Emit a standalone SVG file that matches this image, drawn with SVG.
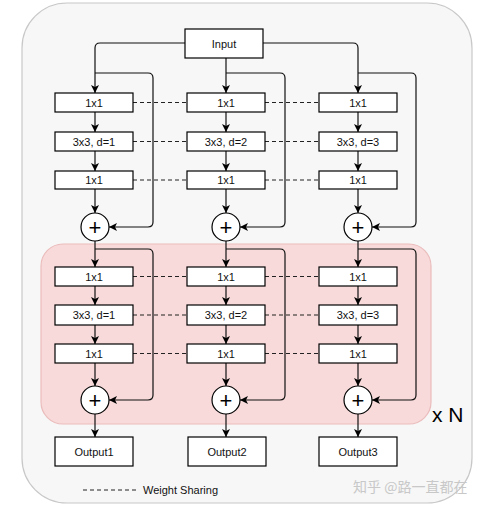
<svg xmlns="http://www.w3.org/2000/svg" width="483" height="507" viewBox="0 0 483 507">
<defs>
<style>
.bx{fill:#fff;stroke:#000;stroke-width:1.2}
.t{font-family:"Liberation Sans",Arial,sans-serif;font-size:11px;fill:#111;text-anchor:middle}
.c{fill:#fff;stroke:#000;stroke-width:1.2}
.p{font-family:"Liberation Sans",Arial,sans-serif;font-size:22px;fill:#000;text-anchor:middle}
.ln{fill:none;stroke:#111;stroke-width:1.2}
.ds{fill:none;stroke:#222;stroke-width:1;stroke-dasharray:4 3}
</style>
<marker id="ar" markerUnits="userSpaceOnUse" markerWidth="10" markerHeight="10" refX="8" refY="4" orient="auto">
<path d="M0,0 L8,4 L0,8 L2,4 z" fill="#000"/>
</marker>
</defs>
<rect x="22" y="3" width="450" height="500" rx="45" ry="45" fill="#f7f7f7" stroke="#c8c8c8" stroke-width="1.2"/>
<rect x="41" y="244" width="390" height="180" rx="22" ry="22" fill="#f8dada" stroke="#ebbcbc" stroke-width="1.2"/>
<g id="connectors">
<path class="ln" d="M185,43 H100 Q95,43 95,48 V93" marker-end="url(#ar)"/>
<path class="ln" d="M263,43 H353 Q358,43 358,48 V93" marker-end="url(#ar)"/>
<path class="ln" d="M226,58 V93" marker-end="url(#ar)"/>
<path class="ln" d="M95,73 H148 Q153,73 153,78 V222 Q153,227 148,227 H109" marker-end="url(#ar)"/>
<path class="ln" d="M226,73 H280 Q285,73 285,78 V222 Q285,227 280,227 H240" marker-end="url(#ar)"/>
<path class="ln" d="M358,73 H411 Q416,73 416,78 V222 Q416,227 411,227 H372" marker-end="url(#ar)"/>
<path class="ln" d="M95,249 H148 Q153,249 153,254 V395 Q153,400 148,400 H109" marker-end="url(#ar)"/>
<path class="ln" d="M226,249 H280 Q285,249 285,254 V395 Q285,400 280,400 H240" marker-end="url(#ar)"/>
<path class="ln" d="M358,249 H411 Q416,249 416,254 V395 Q416,400 411,400 H372" marker-end="url(#ar)"/>
<path class="ln" d="M95,112 V132" marker-end="url(#ar)"/>
<path class="ln" d="M95,151 V171" marker-end="url(#ar)"/>
<path class="ln" d="M95,189 V213" marker-end="url(#ar)"/>
<path class="ln" d="M95,241 V267" marker-end="url(#ar)"/>
<path class="ln" d="M95,286 V305" marker-end="url(#ar)"/>
<path class="ln" d="M95,325 V344" marker-end="url(#ar)"/>
<path class="ln" d="M95,363 V386" marker-end="url(#ar)"/>
<path class="ln" d="M95,414 V437" marker-end="url(#ar)"/>
<path class="ln" d="M226,112 V132" marker-end="url(#ar)"/>
<path class="ln" d="M226,151 V171" marker-end="url(#ar)"/>
<path class="ln" d="M226,189 V213" marker-end="url(#ar)"/>
<path class="ln" d="M226,241 V267" marker-end="url(#ar)"/>
<path class="ln" d="M226,286 V305" marker-end="url(#ar)"/>
<path class="ln" d="M226,325 V344" marker-end="url(#ar)"/>
<path class="ln" d="M226,363 V386" marker-end="url(#ar)"/>
<path class="ln" d="M226,414 V437" marker-end="url(#ar)"/>
<path class="ln" d="M358,112 V132" marker-end="url(#ar)"/>
<path class="ln" d="M358,151 V171" marker-end="url(#ar)"/>
<path class="ln" d="M358,189 V213" marker-end="url(#ar)"/>
<path class="ln" d="M358,241 V267" marker-end="url(#ar)"/>
<path class="ln" d="M358,286 V305" marker-end="url(#ar)"/>
<path class="ln" d="M358,325 V344" marker-end="url(#ar)"/>
<path class="ln" d="M358,363 V386" marker-end="url(#ar)"/>
<path class="ln" d="M358,414 V437" marker-end="url(#ar)"/>
<path class="ds" d="M133,102.5 H187 M265,102.5 H319"/>
<path class="ds" d="M133,141.5 H187 M265,141.5 H319"/>
<path class="ds" d="M133,180 H187 M265,180 H319"/>
<path class="ds" d="M133,276.5 H187 M265,276.5 H319"/>
<path class="ds" d="M133,315 H187 M265,315 H319"/>
<path class="ds" d="M133,353.5 H187 M265,353.5 H319"/>
</g>
<g id="input"><rect class="bx" x="185" y="29" width="78" height="29"/><text class="t" x="224" y="47.5">Input</text></g>
<g id="a1_c1"><rect class="bx" x="55" y="93" width="78" height="19"/><text class="t" x="94" y="106.5">1x1</text></g>
<g id="a2_c1"><rect class="bx" x="55" y="132" width="78" height="19"/><text class="t" x="94" y="145.5">3x3, d=1</text></g>
<g id="a3_c1"><rect class="bx" x="55" y="171" width="78" height="18"/><text class="t" x="94" y="184">1x1</text></g>
<g id="a1_c2"><rect class="bx" x="187" y="93" width="78" height="19"/><text class="t" x="226" y="106.5">1x1</text></g>
<g id="a2_c2"><rect class="bx" x="187" y="132" width="78" height="19"/><text class="t" x="226" y="145.5">3x3, d=2</text></g>
<g id="a3_c2"><rect class="bx" x="187" y="171" width="78" height="18"/><text class="t" x="226" y="184">1x1</text></g>
<g id="a1_c3"><rect class="bx" x="319" y="93" width="78" height="19"/><text class="t" x="358" y="106.5">1x1</text></g>
<g id="a2_c3"><rect class="bx" x="319" y="132" width="78" height="19"/><text class="t" x="358" y="145.5">3x3, d=3</text></g>
<g id="a3_c3"><rect class="bx" x="319" y="171" width="78" height="18"/><text class="t" x="358" y="184">1x1</text></g>
<g id="sumA_c1"><circle class="c" cx="95" cy="227" r="14"/><text class="p" x="95" y="234.5">+</text></g>
<g id="sumA_c2"><circle class="c" cx="226" cy="227" r="14"/><text class="p" x="226" y="234.5">+</text></g>
<g id="sumA_c3"><circle class="c" cx="358" cy="227" r="14"/><text class="p" x="358" y="234.5">+</text></g>
<g id="b1_c1"><rect class="bx" x="55" y="267" width="78" height="19"/><text class="t" x="94" y="280.5">1x1</text></g>
<g id="b2_c1"><rect class="bx" x="55" y="305" width="78" height="20"/><text class="t" x="94" y="319">3x3, d=1</text></g>
<g id="b3_c1"><rect class="bx" x="55" y="344" width="78" height="19"/><text class="t" x="94" y="357.5">1x1</text></g>
<g id="b1_c2"><rect class="bx" x="187" y="267" width="78" height="19"/><text class="t" x="226" y="280.5">1x1</text></g>
<g id="b2_c2"><rect class="bx" x="187" y="305" width="78" height="20"/><text class="t" x="226" y="319">3x3, d=2</text></g>
<g id="b3_c2"><rect class="bx" x="187" y="344" width="78" height="19"/><text class="t" x="226" y="357.5">1x1</text></g>
<g id="b1_c3"><rect class="bx" x="319" y="267" width="78" height="19"/><text class="t" x="358" y="280.5">1x1</text></g>
<g id="b2_c3"><rect class="bx" x="319" y="305" width="78" height="20"/><text class="t" x="358" y="319">3x3, d=3</text></g>
<g id="b3_c3"><rect class="bx" x="319" y="344" width="78" height="19"/><text class="t" x="358" y="357.5">1x1</text></g>
<g id="sumB_c1"><circle class="c" cx="95" cy="400" r="14"/><text class="p" x="95" y="407.5">+</text></g>
<g id="sumB_c2"><circle class="c" cx="226" cy="400" r="14"/><text class="p" x="226" y="407.5">+</text></g>
<g id="sumB_c3"><circle class="c" cx="358" cy="400" r="14"/><text class="p" x="358" y="407.5">+</text></g>
<g id="out1"><rect class="bx" x="55" y="437" width="78" height="29"/><text class="t" x="94" y="455.5">Output1</text></g>
<g id="out2"><rect class="bx" x="188" y="437" width="78" height="29"/><text class="t" x="227" y="455.5">Output2</text></g>
<g id="out3"><rect class="bx" x="319" y="437" width="78" height="29"/><text class="t" x="358" y="455.5">Output3</text></g>
<g id="repeat"><text x="432" y="422" font-family="'Liberation Sans',Arial,sans-serif" font-size="21" fill="#000">x N</text></g>
<g id="legend"><path class="ds" d="M83,490 H136" stroke-dasharray="3 2"/><text x="143" y="494" font-family="'Liberation Sans',Arial,sans-serif" font-size="11" fill="#111">Weight Sharing</text></g>
<text x="353" y="492" font-family="'Noto Sans CJK SC',sans-serif" font-size="14" fill="#c8c8c8">知乎 @路一直都在</text>
</svg>
